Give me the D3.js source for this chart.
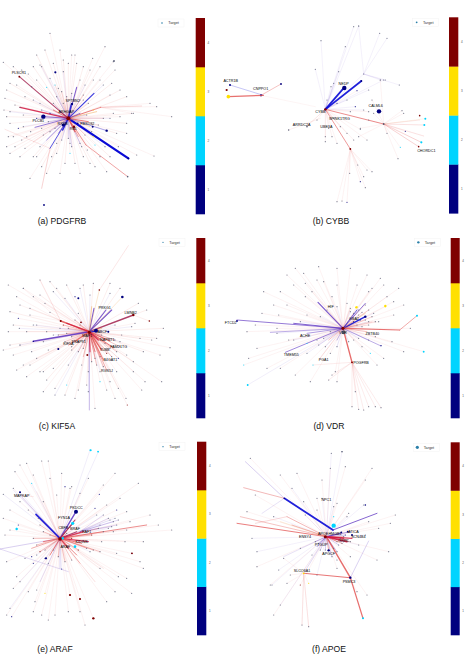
<!DOCTYPE html>
<html>
<head>
<meta charset="utf-8">
<script src="https://cdn.jsdelivr.net/npm/d3@7/dist/d3.min.js"></script>
<style>
html,body{margin:0;padding:0;background:#fff}
svg{display:block}
text{font-family:"Liberation Sans",Arial,sans-serif}
</style>
</head>
<body>
<svg id="fig" width="474" height="656"></svg>
<script>
// Gene interaction subgraphs around six target proteins.
// Node positions are in layout units (711 wide per panel); edges are [x1,y1,x2,y2,weight,tone].
// Fans are [hubX,hubY,weight,tone,[x,y,community,...]], hubs are [x,y,size,community].

const communities = [1, 2, 3, 4];
const communityColors = ["#00007f", "#00d4ff", "#ffe000", "#7f0000"];

// (a) PDGFRB
const pdgfrbEdges = [
 [205,355,385,475,1,"b"],[205,355,60,322,.55,"c"],[205,355,58,230,.4,"m"],[205,355,282,280,.42,"b"],
 [205,355,230,262,.38,"v"],[205,355,213,315,.5,"b"],[205,355,188,390,.6,"b"],[205,355,302,322,.3,"r"],
 [302,322,425,318,.14,"r"],[205,355,258,435,.3,"r"],[258,435,383,530,.26,"r"],[205,355,150,445,.32,"b"],
 [150,445,125,565,.16,"r"],[150,445,15,388,.1,"r"],[205,355,105,382,.3,"v"],[205,355,130,350,.3,"v"],
 [205,355,160,330,.3,"r"],[205,355,225,395,.5,"r"],[205,355,265,365,.35,"r"],[205,355,290,335,.25,"o"],
 [205,355,180,335,.3,"m"],[205,355,240,340,.3,"v"],[205,355,320,392,.2,"b"],[205,355,175,400,.25,"v"],
 [205,355,140,420,.25,"v"],[205,355,235,410,.25,"r"],[205,355,270,380,.2,"o"],[205,355,100,425,.12,"r"]
];
const pdgfrbFans = [
 [205,355,.05,"r",[150,100,0,120,195,0,180,150,0,215,165,0,225,165,0,278,175,0,240,240,0,175,265,0,140,262,2,85,222,0,
  40,200,0,10,187,0,15,295,0,12,330,0,30,370,0,40,410,0,20,440,0,30,460,0,60,470,0,90,535,0,
  65,420,0,110,470,0,155,470,0,180,520,0,210,460,2,240,520,0,285,500,0,320,515,0,262,450,0,285,435,2,
  355,440,0,410,465,0,462,468,0,340,340,0,340,185,0,345,210,0,315,140,0,280,240,0,300,240,0,190,310,0,
  250,300,0,330,285,0,360,350,0,380,400,0,120,310,0,75,290,0,50,255,0,92,395,0,125,385,0,170,430,0]],
 [205,355,.07,"r",[100,200,0,110,240,0,95,260,0,65,210,0,30,250,0,20,270,0,45,315,0,70,345,0,20,350,0,55,385,1,
  80,410,0,25,410,0,45,440,0,75,445,0,100,470,0,125,500,0,140,520,0,170,460,0,195,490,0,225,490,0,
  250,470,0,270,490,0,300,470,0,330,470,0,350,400,0,380,370,0,400,340,0,380,290,0,360,270,0,335,250,0,
  300,200,0,270,210,0,250,200,0,230,190,0,205,190,0,190,180,0,160,190,0,135,150,0,110,165,0]],
 [205,355,.07,"v",[125,200,0,150,235,0,190,215,0,255,255,0,310,255,0,60,322,0,30,335,0,70,380,0,120,440,0,210,430,0,
  245,440,0,315,440,0,330,355,0,275,395,0,100,300,0,130,405,0]],
 [205,355,.13,"v",[170,290,0,160,310,0,150,340,1,145,365,0,165,385,0,150,395,0,185,420,0,205,415,0,215,440,0,240,430,0,
  215,280,0,240,300,0,125,330,0,110,355,1,260,345,0]],
 [205,355,.13,"r",[255,405,0,280,410,3,295,375,0,310,355,0,280,330,3,265,310,0,250,285,0,200,290,0,185,275,0,165,255,2]],
 [302,322,.05,"r",[450,310,0,470,320,0,515,350,0,395,340,0]]
];
const pdgfrbHubs = [[130,350,2.2,1],[166,217,1.1,1],[320,392,1.2,1],[132,615,.9,1],[385,475,.9,1],[383,530,.8,0],[58,230,.9,4],[278,380,1,1],[205,355,2,4],[216,312,1.2,1],[190,375,1.6,1],[222,380,1.2,4],[233,370,.9,1],[342,183,.9,0]];
const pdgfrbLabels = [["PLSCR1",57,219],["SPTBN2",218,302],["ARHGAP",199,334],["PLCB1",115,361],["RXRB",188,372],["FBXO32",262,371],["RB1",220,385]];

// (b) CYBB
const cybbEdges = [
 [265,328,373,243,.75,"b"],[265,328,322,262,.75,"b"],[265,328,440,372,.3,"r"],[265,328,340,447,.28,"r"],
 [440,372,548,360,.1,"r"],[440,372,562,375,.12,"r"],[440,372,560,408,.12,"r"],[440,372,553,427,.16,"r"],
 [440,372,545,440,.16,"r"],[440,372,565,356,.08,"o"],[72,286,132,252,.2,"r"],
 [250,355,155,390,.07,"r"],[265,328,210,378,.1,"r"],[72,286,235,320,.04,"r"]
];
const cybbFans = [
 [265,328,.05,"v",[365,78,0,380,222,0,350,80,0,252,122,0,235,208,0,290,250,0,282,260,0,325,140,0,270,300,0,300,310,1,
  330,300,0,355,320,1,380,330,0,305,215,0,440,240,0,395,270,0]],
 [380,222,.05,"v",[365,78,0,428,100,0,450,115,0,430,240,0,487,255,0,445,240,0]],
 [265,328,.05,"r",[240,360,0,265,410,0,285,410,0,300,430,0,265,425,0,370,388,0,340,335,0,360,272,1,290,355,0,330,400,0,
  275,385,0,310,380,0,350,420,0,390,420,0,395,335,0]],
 [340,447,.05,"r",[300,605,0,315,603,0,330,607,1,338,520,0,370,545,1,385,563,0,390,510,0,405,515,0,362,495,0,380,530,0]],
 [440,372,.05,"r",[495,332,0,490,442,2,483,476,0,500,340,0,505,394,1,395,360,0,365,410,0,430,240,0,405,300,0,450,400,0,410,340,0,370,385,0]]
];
const cybbHubs = [[322,264,2.2,1],[426,334,2.2,1],[373,243,.9,1],[265,328,1.2,4],[340,447,.9,4],[440,372,.9,0],[553,427,1.1,2],[565,356,1,2],[562,375,1,2],[548,347,.8,4],[545,440,.8,4],[72,286,1.1,1],[132,252,.9,1],[155,390,.7,0],[210,380,.8,0]];
const cybbLabels = [["CYBB",250,336],["NEDP",320,250],["CALML6",416,316],["SPINK1TRG",307,357],["ARRDC2A",194,374],["UBE3A",268,380],["CHORDC1",568,452],["CNPPO1",71,266]];

// Small component between the two upper panels
const smallEdges = [[690,255,790,286,.15,"b"],[685,290,790,286,.5,"r"]];
const smallHubs = [[690,255,1,1],[680,270,1.1,4],[685,290,1.8,3]];
const smallLabels = [["ACTR1B",692,241]];

// (c) KIF5A
const kif5aEdges = [
 [268,320,100,349,.6,"v"],[268,320,400,270,.55,"m"],[268,320,282,250,.4,"v"],[268,320,318,255,.42,"v"],
 [268,320,335,255,.45,"v"],[268,320,368,215,.15,"o"],[268,320,298,195,.16,"o"],[298,195,385,62,.1,"r"],
 [268,320,182,288,.55,"r"],[182,288,120,165,.08,"r"],[268,320,268,555,.2,"v"],[268,320,205,360,.3,"r"],
 [268,320,305,375,.55,"r"],[268,320,330,348,.4,"r"],[268,320,340,368,.35,"r"],[268,320,310,405,.35,"r"],
 [268,320,320,435,.25,"r"],[268,320,290,318,.7,"b"],[268,320,225,350,.4,"r"],[268,320,235,310,.25,"r"],
 [268,320,295,345,.5,"c"],[268,320,270,380,.4,"c"],[268,320,305,310,.25,"o"],[400,270,448,288,.07,"r"],
 [268,320,275,245,.25,"o"],[268,320,200,295,.4,"c"],[268,320,285,380,.35,"r"],[268,320,250,395,.2,"r"]
];
const kif5aFans = [
 [268,320,.05,"r",[70,190,0,100,215,0,135,235,0,60,240,0,55,280,1,25,180,0,25,320,0,40,390,0,60,360,0,70,420,0,
  150,262,0,225,215,1,235,265,0,170,190,0,215,365,0,175,372,1,145,375,0,95,380,0,130,500,0,165,490,0,
  200,480,2,225,520,0,285,550,0,345,520,0,378,520,0,382,540,4,425,495,0,435,470,0,485,470,0,510,368,0,
  480,390,0,455,345,0,420,340,0,405,295,0,365,330,0,380,390,0,355,400,1,330,470,0,350,440,0,400,440,0,
  300,470,2,265,440,0,245,420,0,10,375,0,160,430,0,120,440,0,80,455,0,50,435,0,110,300,0,140,320,0]],
 [268,320,.07,"r",[30,260,0,80,320,0,90,420,0,140,465,0,195,510,0,235,495,0,260,480,0,320,495,0,355,490,0,400,410,0,
  430,380,0,470,340,0,490,310,0,440,255,0,415,235,0,360,190,0,330,175,0,280,175,0,250,180,0,200,180,0,
  150,170,0,120,210,0,90,250,0,40,300,0,30,360,0,110,400,0,130,440,0]],
 [268,320,.06,"v",[100,300,0,160,330,0,130,350,0,58,310,0,160,200,0,195,220,0,240,190,0,270,210,0,330,205,0,345,300,0,
  325,320,1,360,350,0,205,420,0,165,510,0,265,500,0,300,440,0,235,350,0,395,305,0,180,310,0,60,360,0]],
 [268,320,.18,"r",[300,345,0,315,355,0,330,370,0,320,385,4,300,395,0,285,400,0,290,420,0,310,425,0,275,410,0,250,370,0,
  235,380,0,215,375,0,195,350,0,215,335,0,205,310,0,190,300,4,240,300,0,225,285,0,255,345,0,345,345,0,
  350,380,0,335,395,0,360,365,0,305,330,0,200,325,0,175,330,0]],
 [182,288,.05,"r",[70,190,0,120,165,0,50,215,0,90,270,0]]
];
const kif5aHubs = [[288,317,2,1],[400,270,1.2,4],[367,216,1.3,1],[100,349,.7,1],[268,322,1.6,4],[298,195,.8,4],[448,288,.8,4],[235,220,1,1],[325,320,1,1],[262,390,1,4],[175,372,1,1],[182,288,1,4],[243,292,.9,4]];
const kif5aLabels = [["LMNB2",392,262],["PRKG1",314,248],["ABCF",307,321],["MAP1",262,332],["KIF5A",205,357],["SNAP91",236,351],["NAPRT1",322,344],["FAM21TG",356,366],["TUBB",314,373],["B4GAT1",331,405],["RGS5J",321,436]];

// (d) VDR
const vdrEdges = [
 [318,310,0,285,.3,"v"],[318,310,243,232,.45,"v"],[318,310,385,235,.3,"v"],[318,310,385,275,.6,"b"],
 [318,310,360,255,.3,"b"],[318,310,488,315,.45,"r"],[488,315,540,272,.25,"r"],[318,310,345,412,.55,"r"],
 [318,310,145,382,.28,"v"],[318,310,100,322,.22,"v"],[318,310,430,362,.22,"v"],[318,310,245,405,.14,"r"],
 [318,310,170,295,.35,"v"],[318,310,210,325,.25,"v"],[318,310,390,320,.2,"r"],[318,310,385,265,.2,"o"],
 [318,310,275,345,.2,"r"],[318,310,300,345,.2,"v"],[318,310,405,290,.12,"r"]
];
const vdrFans = [
 [345,412,.08,"r",[345,545,0,365,553,0,380,555,0,395,545,0,415,545,0,432,548,0,285,450,0,275,465,0,228,420,2,355,500,0]],
 [318,310,.05,"r",[175,130,0,200,145,0,245,125,0,170,180,0,125,270,0,75,265,0,30,320,0,60,370,0,20,420,2,225,200,0,
  285,215,0,330,235,0,360,245,3,445,245,3,485,190,0,450,215,0,425,290,0,470,270,0,465,350,0,560,380,2,
  400,385,2,375,365,0,415,335,0,270,255,0,210,270,0,150,240,0,155,345,0,210,355,2,280,385,0,295,440,0,
  395,200,0,360,180,0,405,190,0,440,180,0,300,180,0,260,170,0,205,215,0,120,310,0,350,345,0,385,240,0,
  80,200,0,130,200,0,110,240,0,55,300,0,35,400,0,90,430,0,130,430,0,175,450,0,220,470,0,300,470,0,
  420,420,0,440,400,0,500,380,0,520,310,0,500,240,0,470,230,0,430,160,0,390,150,0,340,130,0,300,130,0,
  240,165,0,205,175,0,150,150,0]],
 [318,310,.06,"v",[190,290,0,120,325,0,170,345,0,250,275,0,300,245,0,340,260,0,365,270,0,395,290,0,410,265,0,375,305,0,
  32,480,2,210,385,0,240,345,0]],
 [318,310,.13,"r",[340,250,0,350,265,0,365,255,0,375,262,0,395,255,0,405,275,0,415,290,0,395,300,0,360,300,0,350,290,1,
  370,285,1,385,285,0]],
 [318,310,.1,"v",[280,320,0,260,340,0,245,360,0,265,365,0,300,365,0,335,350,0,365,340,0,395,345,0]]
];
const vdrHubs = [[320,322,2,0],[318,310,1.6,4],[345,412,.9,4],[540,272,1,2],[385,275,1.2,1],[358,247,1.2,3],[445,243,1.2,3],[432,362,.7,1],[0,288,.9,1],[560,380,.9,2],[32,480,.9,2]];
const vdrLabels = [["HIF",281,245],["GBA2",351,281],["ZBTB40",406,327],["VDR",318,322],["ACHE",204,331],["TMEM55",163,388],["PGA1",260,404],["POGFRB",372,412]];
const vdrOuterLabels = [["FTCD2",-19,294]];

// (e) ARAF
const arafEdges = [
 [180,310,108,238,.7,"b"],[180,310,228,230,.55,"v"],[180,310,225,255,.45,"m"],[180,310,440,270,.3,"r"],
 [180,310,60,180,.14,"v"],[180,310,0,342,.15,"v"],[0,342,205,410,.12,"v"],[180,310,250,290,.5,"c"],
 [180,310,265,320,.5,"c"],[180,310,205,340,.5,"c"],[180,310,130,320,.35,"r"],[180,310,95,340,.25,"r"],
 [180,310,150,360,.3,"r"],[180,310,240,385,.2,"r"],[180,310,285,440,.12,"r"],[180,310,310,400,.1,"r"],
 [180,310,230,360,.3,"r"],[180,310,215,270,.35,"m"],[180,310,110,170,.08,"r"],[100,185,60,180,.1,"r"],
 [180,310,40,165,.07,"v"],[180,310,180,400,.15,"v"],[180,310,120,440,.1,"v"],[180,310,230,290,.4,"m"],[180,310,245,325,.35,"r"]
];
const arafFans = [
 [180,310,.05,"r",[125,78,0,145,78,0,185,115,0,60,90,0,80,85,0,150,130,0,215,155,0,345,115,0,415,145,0,298,178,1,
  285,220,1,320,210,0,350,225,1,380,230,0,375,320,0,395,355,1,395,475,0,355,425,0,300,400,0,280,550,4,
  240,492,4,210,480,4,255,570,0,145,555,0,205,530,0,105,500,0,135,475,3,35,545,1,20,540,0,110,465,0,
  50,425,0,75,370,0,95,365,1,100,385,1,135,370,1,195,155,1,210,160,0,30,285,0,10,250,0,50,280,2,
  55,270,1,85,225,0,40,160,0,340,290,0,305,320,0,350,355,0,380,285,0,430,400,0,515,285,0,475,270,0,
  45,110,0,100,120,0,60,200,0,30,225,0,15,300,0,20,380,0,40,460,0,85,470,0,100,530,0,125,540,0,
  165,540,0,240,530,0,320,500,0,345,470,0,380,430,0,420,380,0,430,320,0,450,240,0,390,260,0,360,190,0,
  310,150,0,265,130,0,240,175,0,170,180,0,130,200,0,115,250,0]],
 [180,310,.06,"v",[10,178,0,95,145,2,60,172,1,290,240,0,330,255,0,300,270,0,325,280,0,345,250,0,270,45,2,295,50,2,
  30,520,0,60,440,0,110,360,0,145,385,0,185,402,1,270,350,0]],
 [180,310,.2,"r",[100,310,0,110,330,0,120,350,4,135,345,0,160,345,0,175,365,0,195,380,0,215,375,0,235,345,4,260,340,0,
  280,345,0,300,350,0,150,300,0,130,290,0,120,270,0,215,310,4,200,295,0,275,300,4,310,290,0,295,280,0]],
 [240,290,.12,"v",[340,260,0,335,275,0,325,250,0,350,270,0,310,240,0,355,255,0]]
];
const arafHubs = [[228,230,2,1],[218,265,1.6,2],[188,310,1.4,2],[225,335,1.3,2],[240,492,1,4],[210,480,1.1,4],[280,550,1.2,4],[396,355,.9,4],[50,282,1.2,2],[272,46,1,2],[294,50,.8,2],[60,172,1,1],[180,312,1.8,4],[138,370,1.1,1]];
const arafLabels = [["MAPKAP",65,181],["PKDCC",229,217],["FYN1A",192,248],["CBFB",190,279],["BRAF",225,280],["RAF1",260,290],["KIDINS",245,320],["ARAF",196,336]];

// (f) APOE
const apoeEdges = [
 [142,190,288,285,.75,"b"],[288,285,420,235,.35,"v"],[142,190,25,80,.15,"v"],[142,190,20,158,.22,"r"],[142,190,75,235,.1,"v"],
 [268,305,340,428,.55,"r"],[340,428,378,550,.5,"r"],[340,428,395,318,.14,"v"],[200,415,340,428,.38,"r"],
 [200,415,195,570,.08,"r"],[200,415,215,575,.08,"r"],[268,305,0,265,.35,"r"],[268,305,10,245,.2,"r"],
 [268,305,150,245,.22,"r"],[150,245,55,265,.14,"r"],[268,305,330,320,.6,"c"],[268,305,345,310,.45,"c"],
 [268,305,310,295,.35,"v"],[268,305,200,415,.12,"v"],[268,305,275,345,.25,"r"],[268,305,240,335,.25,"v"],
 [268,305,130,260,.14,"o"],[268,305,340,290,.25,"v"],[268,305,140,365,.1,"v"],[268,305,320,310,.5,"c"],[268,305,165,270,.2,"r"]
];
const apoeFans = [
 [268,305,.05,"v",[283,55,0,315,50,0,165,160,0,380,210,0,330,245,0,290,215,0,255,190,0,205,240,0,110,245,0,45,310,0,
  60,350,0,125,405,0,105,450,0,130,510,0,240,420,0,385,300,0,365,330,0,300,375,0,225,360,0,190,340,0]],
 [268,305,.05,"r",[325,95,0,405,100,0,385,135,0,255,135,0,240,190,0,475,240,0,460,265,0,425,280,0,455,350,0,420,375,0,
  390,480,0,360,470,0,300,400,0,110,540,0,100,450,0,60,395,0,190,450,4,30,230,0,55,180,0,200,200,0,
  290,245,2,300,205,0,335,235,0,395,260,0,180,115,0,130,120,0,40,70,0,280,100,0,240,225,0,340,365,0]],
 [268,305,.16,"v",[310,310,0,320,320,0,305,330,0,290,340,0,265,345,0,250,345,0,245,325,0,235,320,0,300,350,0,285,365,0,325,300,1]],
 [268,305,.22,"r",[330,315,0,340,320,0,300,320,0,315,325,0,320,305,0]],
 [200,415,.05,"r",[140,370,0,160,420,0,150,445,0,195,570,0,215,575,0,215,445,3]]
];
const apoeHubs = [[290,272,2.2,2],[275,346,1.2,1],[265,305,1.5,4],[340,428,1.2,1],[378,550,1,2],[200,415,.9,3],[345,300,1,1],[332,290,.9,1],[313,292,.9,1],[142,190,.7,1],[385,210,.8,1],[315,50,.7,0]];
const apoeLabels = [["NPC1",268,193],["APOE",258,295],["HMGB1",294,296],["ATICA",349,289],["SCN4B4",364,305],["ENSY4",204,306],["PTGUP",252,328],["APGCF",275,355],["SLCO6A1",195,407],["PSMC3",336,440],["GPRC",320,318]];

// Panel frames: offsets of the layout space and placement of each colour bar.
const panels = [
 {caption:"(a) PDGFRB",x:0,y:0,h:225,capX:62,capY:224,bar:[195.7,18,205,214],legend:[486,69,.8],edges:pdgfrbEdges,fans:pdgfrbFans,hubs:pdgfrbHubs,labels:pdgfrbLabels},
 {caption:"(b) CYBB",x:237,y:0,h:225,capX:331,capY:224,bar:[449,17.3,458.3,213.3],legend:[539,67,.9],edges:cybbEdges,fans:cybbFans,hubs:cybbHubs,labels:cybbLabels},
 {caption:"(c) KIF5A",x:0,y:225,h:210,capX:57,capY:429,bar:[196.3,238,205.3,418],legend:[489,52,.7],edges:kif5aEdges,fans:kif5aFans,hubs:kif5aHubs,labels:kif5aLabels},
 {caption:"(d) VDR",x:237,y:225,h:210,capX:329,capY:429,bar:[450.7,238,459.7,418],legend:[544,52,1.2],edges:vdrEdges,fans:vdrFans,hubs:vdrHubs,labels:vdrLabels.concat(vdrOuterLabels)},
 {caption:"(e) ARAF",x:0,y:435,h:221,capX:55,capY:652,bar:[197,441.7,206.3,635],legend:[489,35,.7],edges:arafEdges,fans:arafFans,hubs:arafHubs,labels:arafLabels},
 {caption:"(f) APOE",x:237,y:435,h:221,capX:329,capY:652,bar:[450.7,442.3,459.7,635],legend:[541,37,1.6],edges:apoeEdges,fans:apoeFans,hubs:apoeHubs,labels:apoeLabels}
];

const toneColor = {b:"#0a0ad6",v:"#5a2fc0",r:"#e2504f",c:"#d3143c",m:"#a01f4e",o:"#f0a04a"};
const widthScale = d3.scaleLinear().domain([0,1]).range([.25,2.3]);
const alphaScale = d3.scaleLinear().domain([0,.05,.3,1]).range([.1,.2,.75,1]);
const communityScale = d3.scaleOrdinal().domain(communities).range(communityColors);
const leafFill = c => c === 0 ? "#5b6078" : communityScale(c);

const svg = d3.select("#fig");

function drawEdges(g, rows, sx, sy){
  g.selectAll(null).data(rows).join("line")
    .attr("x1", d => sx(d[0])).attr("y1", d => sy(d[1]))
    .attr("x2", d => sx(d[2])).attr("y2", d => sy(d[3]))
    .attr("stroke", d => toneColor[d[5]])
    .attr("stroke-width", d => widthScale(d[4]))
    .attr("stroke-opacity", d => alphaScale(d[4]))
    .attr("stroke-linecap","round");
}

function drawHubs(g, rows, sx, sy){
  g.selectAll(null).data(rows).join("circle")
    .attr("cx", d => sx(d[0])).attr("cy", d => sy(d[1])).attr("r", d => d[2])
    .attr("fill", d => leafFill(d[3]));
}

function drawLabels(g, rows, sx, sy){
  g.selectAll(null).data(rows).join("text")
    .attr("x", d => sx(d[1])).attr("y", d => sy(d[2]) + 1.2)
    .attr("text-anchor","middle").attr("font-size",3.7).attr("fill","#000")
    .text(d => d[0]);
}

panels.forEach(p => {
  const sx = d3.scaleLinear().domain([0,711]).range([p.x,p.x+237]);
  const sy = d3.scaleLinear().domain([0,p.h*3]).range([p.y,p.y+p.h]);
  const g = svg.append("g");

  // Weak neighbours first, then their links, so the strong edges stay on top.
  const fanLinks = p.fans.flatMap(f => d3.range(0,f[4].length,3).map(i => [f[0],f[1],f[4][i],f[4][i+1],f[2],f[3]]));
  const leaves = p.fans.flatMap(f => d3.range(0,f[4].length,3).map(i => [f[4][i],f[4][i+1],.62,f[4][i+2]]));
  drawEdges(g.append("g"), fanLinks, sx, sy);
  drawEdges(g.append("g"), p.edges, sx, sy);
  drawHubs(g.append("g").attr("opacity",.8), leaves, sx, sy);
  drawHubs(g.append("g"), p.hubs, sx, sy);
  drawLabels(g.append("g"), p.labels, sx, sy);

  // Legend with its faint frame
  const [lx,ly,lr] = p.legend;
  g.append("rect").attr("x",sx(lx)-4).attr("y",sy(ly)-4).attr("width",26).attr("height",8)
    .attr("fill","#fff").attr("stroke","#f3f3f3").attr("stroke-width",.5);
  g.append("circle").attr("cx",sx(lx)).attr("cy",sy(ly)).attr("r",lr).attr("fill","#2a7fa8");
  g.append("text").attr("x",sx(lx)+6.3).attr("y",sy(ly)+1.3).attr("font-size",3.8).attr("fill","#333").text("Target");

  // Community colour bar
  const [bx0,by0,bx1,by1] = p.bar;
  const band = d3.scaleBand().domain(communities.slice().reverse()).range([by0,by1]);
  g.append("g").selectAll("rect").data(communities).join("rect")
    .attr("x",bx0).attr("y",d => band(d)).attr("width",bx1-bx0).attr("height",band.bandwidth()+.3)
    .attr("fill",d => communityScale(d));
  g.append("g").selectAll("text").data(communities).join("text")
    .attr("x",bx1+2.6).attr("y",d => band(d)+band.bandwidth()/2+1)
    .attr("font-size",3).attr("fill","#555").text(d => d);

  g.append("text").attr("x",p.capX).attr("y",p.capY).attr("text-anchor","middle")
    .attr("font-size",8.6).attr("fill","#111").text(p.caption);
});

// Fragment whose left end sits in the gutter next to panel (a)
const gutterX = d3.scaleLinear().domain([0,711]).range([0,237]);
const gutterY = d3.scaleLinear().domain([0,675]).range([0,225]);
const gutter = svg.append("g");
drawEdges(gutter, smallEdges, gutterX, gutterY);
drawHubs(gutter, smallHubs, gutterX, gutterY);
drawLabels(gutter, smallLabels, gutterX, gutterY);
</script>
</body>
</html>
